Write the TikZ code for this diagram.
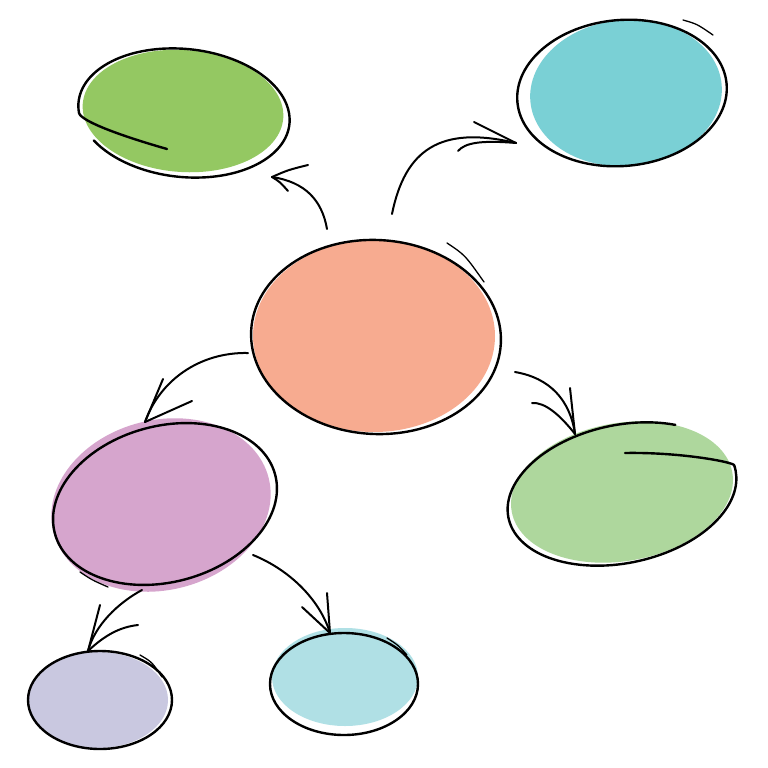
\documentclass[tikz,border=0pt]{standalone}
\usetikzlibrary{shapes.geometric}
\definecolor{greenA}{HTML}{94C862}
\definecolor{cyanA}{HTML}{7AD0D5}
\definecolor{salmon}{HTML}{F7AB90}
\definecolor{purpleA}{HTML}{D6A5CD}
\definecolor{greenB}{HTML}{AED79D}
\definecolor{lavender}{HTML}{C9C8E0}
\definecolor{cyanB}{HTML}{B0E0E5}
\begin{document}
\begin{tikzpicture}[x=1pt,y=-1pt,
  blob/.style={ellipse,draw=none,inner sep=0pt},
  ink/.style={draw=black,line width=2.4pt,line cap=round,line join=round},
  thin ink/.style={draw=black,line width=1.3pt,line cap=round},
  conn/.style={draw=black,line width=2pt,line cap=round}]
\useasboundingbox[fill=white] (0,0) rectangle (768,768);
% filled blobs
\node[blob,fill=greenA,minimum width=201pt,minimum height=122pt,rotate=-4] (gA) at (183,111) {};
\node[blob,fill=cyanA,minimum width=192pt,minimum height=146pt,rotate=5] (cA) at (626,93) {};
\node[blob,fill=salmon,minimum width=242pt,minimum height=192pt] (sal) at (374,336) {};
\node[blob,fill=purpleA,minimum width=222pt,minimum height=170pt,rotate=14] (pur) at (161,505) {};
\node[blob,fill=greenB,minimum width=224pt,minimum height=138pt,rotate=10] (gB) at (622,492) {};
\node[blob,fill=lavender,minimum width=140pt,minimum height=96pt] (lav) at (98,700) {};
\node[blob,fill=cyanB,minimum width=146pt,minimum height=98pt] (cB) at (345,677) {};
% outlines
% top-left green
\draw[ink,rotate around={-6:(184,113)}] (184,113) ++(170:106 and 64) coordinate (gAs) arc[start angle=170,end angle=505,x radius=106,y radius=64];
\draw[ink] (gAs) .. controls (82,122) and (125,137) .. (167,149);
% top-right cyan
\draw[ink,rotate around={5:(622,93)}] (622,93) ellipse [x radius=105,y radius=73];
\draw[thin ink] (683,20) .. controls (697,24) .. (713,35);
% centre
\draw[ink,rotate around={-3:(376,337)}] (376,337) ellipse [x radius=125,y radius=97];
\draw[thin ink] (447,243) .. controls (465,255) .. (484,282);
% purple
\draw[ink,rotate around={15:(165,504)}] (165,504) ellipse [x radius=114,y radius=78];
\draw[thin ink] (80,572) .. controls (92,580) .. (108,587);
% right green
\draw[ink,rotate around={12:(622,494)}] (622,494) ++(305:116 and 69) arc[start angle=305,end angle=-4,x radius=116,y radius=69] coordinate (gBe);
\draw[ink] (gBe) .. controls (733,462) and (680,452) .. (625,453);
% lavender
\draw[ink] (100,700) ellipse [x radius=72,y radius=49];
\draw[thin ink] (140,655) .. controls (152,662) .. (162,677);
% light cyan
\draw[ink] (344,684) ellipse [x radius=74,y radius=51];
\draw[thin ink] (387,638) .. controls (398,645) .. (407,655);
% connector ends
\coordinate (a1s) at (327,229); \coordinate (a1t) at (272,177);
\coordinate (a2s) at (392,214); \coordinate (a2t) at (516,143);
\coordinate (a3s) at (248,353); \coordinate (a3t) at (145,422);
\coordinate (a4s) at (515,372); \coordinate (a4t) at (575,434);
\coordinate (a5s) at (253,555); \coordinate (a5t) at (330,633);
\coordinate (a6s) at (142,590); \coordinate (a6t) at (88,651);
% connectors
\draw[conn] (a1s) .. controls (322,200) and (305,182) .. (a1t);
\draw[conn] (a1t) .. controls (288,170) .. (308,165);
\draw[conn] (a1t) .. controls (280,182) .. (288,191);
\draw[conn] (a2s) .. controls (405,150) and (440,125) .. (a2t);
\draw[conn] (a2t) -- (474,122);
\draw[conn] (a2t) .. controls (480,140) and (465,143) .. (458,151);
\draw[conn] (a3s) .. controls (200,352) and (160,380) .. (a3t);
\draw[conn] (a3t) -- (163,379);
\draw[conn] (a3t) -- (192,401);
\draw[conn] (a4s) .. controls (550,378) and (570,400) .. (a4t);
\draw[conn] (a4t) -- (570,388);
\draw[conn] (a4t) .. controls (560,415) and (545,402) .. (532,403);
\draw[conn] (a5s) .. controls (290,570) and (320,600) .. (a5t);
\draw[conn] (a5t) -- (327,593);
\draw[conn] (a5t) -- (302,607);
\draw[conn] (a6s) .. controls (118,603) and (95,625) .. (a6t);
\draw[conn] (a6t) -- (100,605);
\draw[conn] (a6t) .. controls (105,635) and (120,627) .. (138,625);
\end{tikzpicture}
\end{document}
